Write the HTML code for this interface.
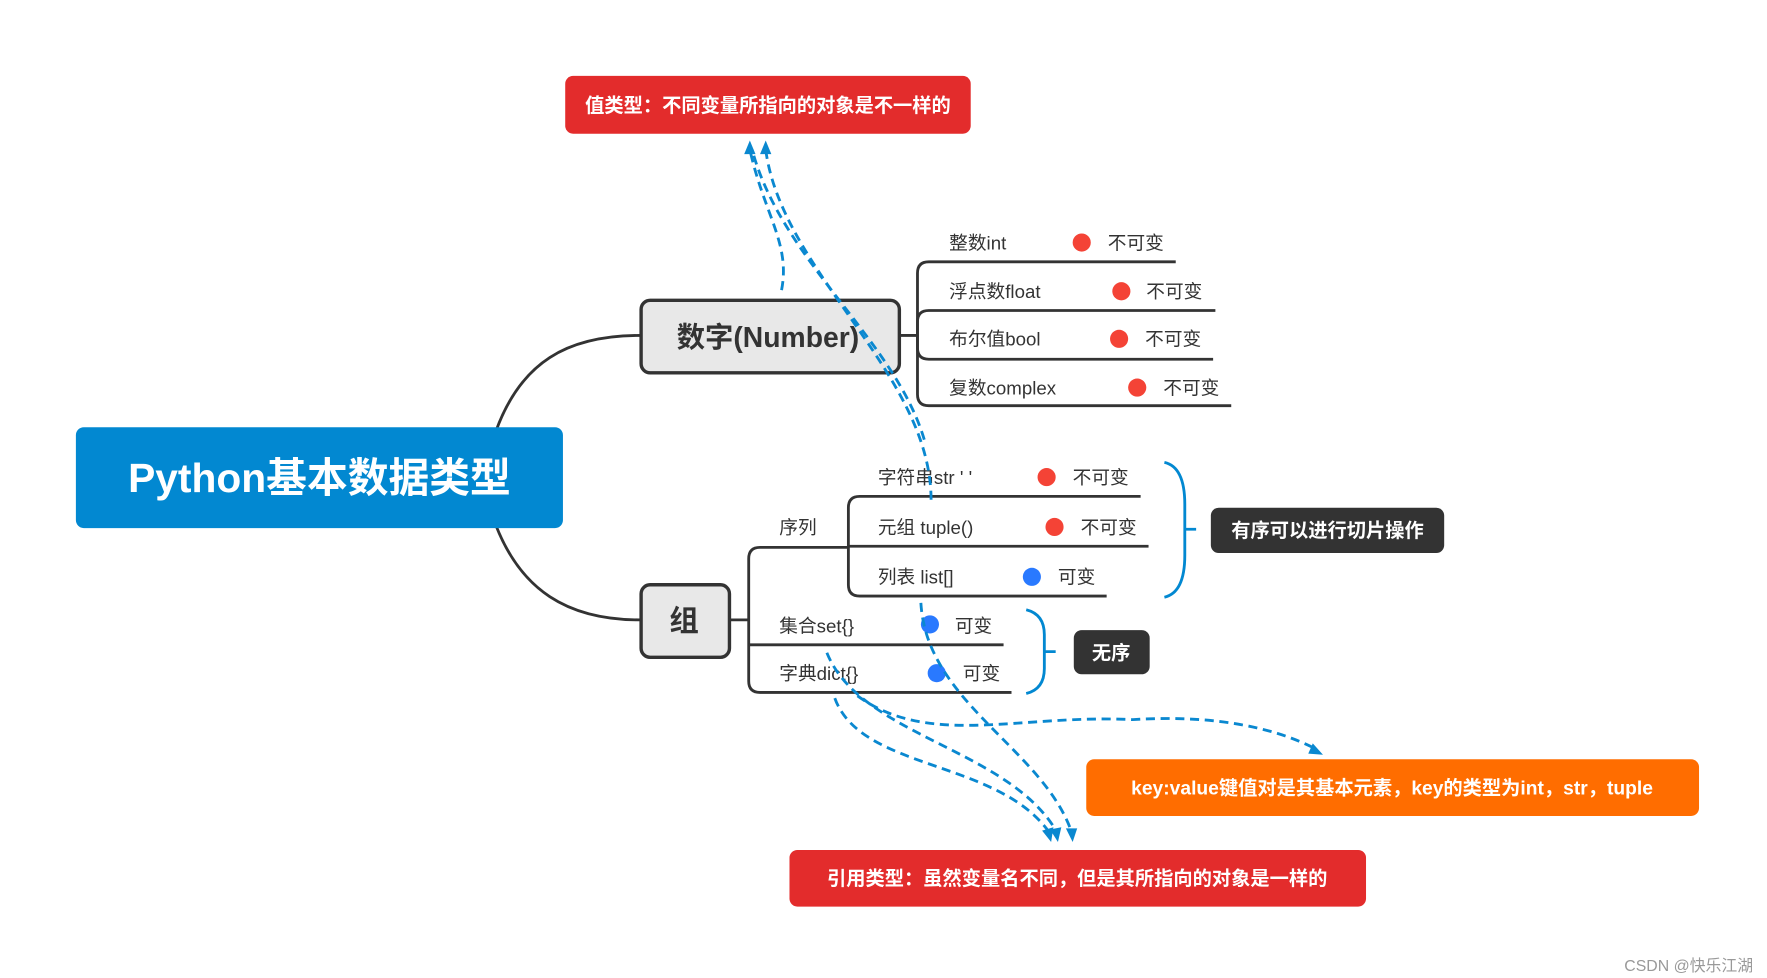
<!DOCTYPE html>
<html><head><meta charset="utf-8"><style>
html,body{margin:0;padding:0;background:#fff;}
svg{display:block}
text{font-family:"Liberation Sans","Noto Sans CJK SC",sans-serif;}
</style></head><body>
<svg width="1767" height="978" viewBox="0 0 1560 863" preserveAspectRatio="none" xmlns="http://www.w3.org/2000/svg">
<rect width="1560" height="863" fill="#fff"/>
<!-- main curves -->
<g fill="none" stroke="#333" stroke-width="2.5">
<path d="M438,380 C460,320 500,296 565,296"/>
<path d="M438,464 C460,520 500,547 565,547"/>
<!-- number branch -->
<path d="M794,296 H810"/>
<path d="M1038,231 H820 Q810,231 810,241 V348 Q810,358 820,358 H1087"/>
<path d="M1073,274 H820 Q810,274 810,284 V307 Q810,317 820,317 H1071"/>
<!-- group branch -->
<path d="M644,547 H661"/>
<path d="M749,483 H671 Q661,483 661,493 V601 Q661,611 671,611 H893"/>
<path d="M661,569 H886"/>
<path d="M1007,438 H759 Q749,438 749,448 V516 Q749,526 759,526 H977"/>
<path d="M749,482 H1014"/>
</g>
<!-- boxes -->
<rect x="67" y="377" width="430" height="89" rx="7" fill="#0288d1"/>
<text x="282" y="434" font-size="36" font-weight="bold" fill="#fff" text-anchor="middle">Python基本数据类型</text>
<rect x="566" y="265" width="228" height="64" rx="8" fill="#e8e8e8" stroke="#333" stroke-width="3"/>
<text x="678" y="306" font-size="25" font-weight="bold" fill="#333" text-anchor="middle">数字(Number)</text>
<rect x="566" y="516" width="78" height="64" rx="8" fill="#e8e8e8" stroke="#333" stroke-width="3"/>
<text x="604" y="557" font-size="26" font-weight="bold" fill="#333" text-anchor="middle">组</text>
<!-- items -->
<g font-size="16.5" fill="#333">
<text x="838" y="220">整数int</text><text x="978" y="220">不可变</text>
<text x="838" y="263">浮点数float</text><text x="1012" y="263">不可变</text>
<text x="838" y="305">布尔值bool</text><text x="1011" y="305">不可变</text>
<text x="838" y="348">复数complex</text><text x="1027" y="348">不可变</text>
<text x="775" y="427">字符串str ' '</text><text x="947" y="427">不可变</text>
<text x="775" y="471">元组 tuple()</text><text x="954" y="471">不可变</text>
<text x="775" y="515">列表 list[]</text><text x="934" y="515">可变</text>
<text x="688" y="471">序列</text>
<text x="688" y="558">集合set{}</text><text x="843" y="558">可变</text>
<text x="688" y="600">字典dict{}</text><text x="850" y="600">可变</text>
</g>
<g fill="#f44336">
<circle cx="955" cy="214" r="8"/><circle cx="990" cy="257" r="8"/><circle cx="988" cy="299" r="8"/><circle cx="1004" cy="342" r="8"/>
<circle cx="924" cy="421" r="8"/><circle cx="931" cy="465" r="8"/>
</g>
<g fill="#2979ff">
<circle cx="911" cy="509" r="8"/><circle cx="821" cy="551" r="8"/><circle cx="827" cy="594" r="8"/>
</g>
<!-- braces -->
<g fill="none" stroke="#0288d1" stroke-width="2.5">
<path d="M1028,408 Q1046,412 1046,445 V490 Q1046,523 1028,527 M1046,467 H1056"/>
<path d="M906,538 Q922,542 922,560 V590 Q922,608 906,612 M922,575 H932"/>
</g>
<rect x="1069" y="448" width="206" height="40" rx="7" fill="#333"/>
<text x="1172" y="474" font-size="17" font-weight="bold" fill="#fff" text-anchor="middle">有序可以进行切片操作</text>
<rect x="948" y="556" width="67" height="39" rx="7" fill="#333"/>
<text x="981" y="582" font-size="17" font-weight="bold" fill="#fff" text-anchor="middle">无序</text>
<!-- notes -->
<rect x="499" y="67" width="358" height="51" rx="7" fill="#e32c2c"/>
<text x="678" y="99" font-size="17" font-weight="bold" fill="#fff" text-anchor="middle">值类型：不同变量所指向的对象是不一样的</text>
<rect x="959" y="670" width="541" height="50" rx="7" fill="#ff6d00"/>
<text x="1229" y="701" font-size="17" font-weight="bold" fill="#fff" text-anchor="middle">key:value键值对是其基本元素，key的类型为int，str，tuple</text>
<rect x="697" y="750" width="509" height="50" rx="7" fill="#e32c2c"/>
<text x="951" y="781" font-size="17" font-weight="bold" fill="#fff" text-anchor="middle">引用类型：虽然变量名不同，但是其所指向的对象是一样的</text>
<!-- dashed connectors -->
<g fill="none" stroke="#0a88d0" stroke-width="2.5" stroke-dasharray="8,5">
<path d="M690,256 C698,215 675,190 662,132"/>
<path d="M816,388 C790,300 690,230 664,132"/>
<path d="M822,441 C822,330 690,240 676,132"/>
<path d="M813,532 C818,620 920,660 946,734"/>
<path d="M730,576 C760,650 890,660 933,734"/>
<path d="M737,616 C760,680 880,670 926,734"/>
<path d="M757,614 C820,660 900,630 1000,635 C1080,630 1130,645 1160,660"/>
</g>
<g fill="#0a88d0">
<path d="M662,124 L657,136 L667,136 Z"/>
<path d="M676,124 L671,136 L681,136 Z"/>
<path d="M947,743 L941,731 L951,731 Z"/>
<path d="M934,743 L927,732 L937,730 Z"/>
<path d="M928,743 L920,733 L930,730 Z"/>
<path d="M1168,666 L1155,665 L1159,656 Z"/>
</g>
<text x="1434" y="857" font-size="14" fill="#999">CSDN @快乐江湖</text>
</svg>
</body></html>
